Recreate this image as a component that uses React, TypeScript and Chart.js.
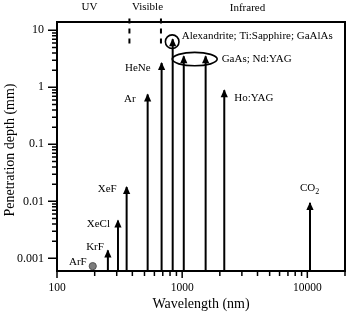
import React, { useEffect, useRef } from 'react';
import { Chart, registerables } from 'chart.js';

Chart.register(...registerables);

// ---- data ----
const laserNames = ['KrF', 'XeCl', 'XeF', 'Ar', 'HeNe', 'Alexandrite', 'GaAs', 'Nd:YAG', 'Ho:YAG', 'CO2'];
const laserWavelengths = [255, 307, 360, 530, 685, 840, 1030, 1540, 2170, 10500];
const laserDepths = [0.00138, 0.0046, 0.0178, 0.75, 2.67, 7.0, 3.5, 3.5, 0.89, 0.0094];
const arfWavelength = [193];
const arfDepth = [0.00073];
const xTickLabels = [100, 1000, 10000];
const yTickLabels = [0.001, 0.01, 0.1, 1, 10];
const regionNames = ['UV', 'Visible', 'Infrared'];
const regionBoundaries = [379, 677];
const xRange = [100, 20000];
const yRange = [0.0006, 14];

const FONT = '"Liberation Serif", "Times New Roman", serif';

const isLogInt = (v: number) => {
  const l = Math.log10(v);
  return Math.abs(l - Math.round(l)) < 1e-6;
};
const significand = (v: number) => v / Math.pow(10, Math.floor(Math.log10(v) + 1e-9));

const decorPlugin = {
  id: 'decor',
  afterDraw(chart: any) {
    const ctx = chart.ctx as CanvasRenderingContext2D;
    const area = chart.chartArea;
    const xs = chart.scales.x;
    const ys = chart.scales.y;
    ctx.save();

    // box
    ctx.strokeStyle = '#000';
    ctx.lineWidth = 2;
    ctx.strokeRect(area.left, area.top, area.right - area.left, area.bottom - area.top);

    // y ticks
    ctx.lineWidth = 1.5;
    ctx.beginPath();
    ys.ticks.forEach((t: any) => {
      const v = t.value;
      if (v < 0.000999 || v > 10.0001) return;
      const s = significand(v);
      if (Math.abs(s - Math.round(s)) > 1e-6) return;
      const py = ys.getPixelForValue(v);
      const len = isLogInt(v) ? 9 : 5;
      ctx.moveTo(area.left - len, py);
      ctx.lineTo(area.left, py);
    });
    // x ticks
    xs.ticks.forEach((t: any) => {
      const v = t.value;
      const s = significand(v);
      if (Math.abs(s - Math.round(s)) > 1e-6) return;
      const px = xs.getPixelForValue(v);
      const len = isLogInt(v) ? 7 : 5;
      ctx.moveTo(px, area.bottom);
      ctx.lineTo(px, area.bottom + len);
    });
    ctx.stroke();

    // dashed region boundaries (drawn bottom-up so the lowest dash is complete)
    ctx.lineWidth = 2;
    ctx.setLineDash([5, 5]);
    regionBoundaries.forEach((w) => {
      const px = xs.getPixelForValue(w);
      ctx.beginPath();
      ctx.moveTo(px, ys.getPixelForValue(5.9));
      ctx.lineTo(px, area.top - 8);
      ctx.stroke();
    });
    ctx.setLineDash([]);

    // arrowheads
    ctx.fillStyle = '#000';
    const tips: Record<string, { x: number; y: number }> = {};
    laserNames.forEach((name, i) => {
      const x = xs.getPixelForValue(laserWavelengths[i]);
      const y = ys.getPixelForValue(laserDepths[i]);
      tips[name] = { x, y };
      ctx.beginPath();
      ctx.moveTo(x, y - 1);
      ctx.lineTo(x - 3.6, y + 7);
      ctx.lineTo(x + 3.6, y + 7);
      ctx.closePath();
      ctx.fill();
    });

    // circle and ellipse
    ctx.lineWidth = 1.6;
    const a = tips['Alexandrite'];
    ctx.beginPath();
    ctx.arc(a.x - 0.5, a.y + 2.5, 6.8, 0, Math.PI * 2);
    ctx.stroke();
    const g = tips['GaAs'];
    const n = tips['Nd:YAG'];
    ctx.beginPath();
    ctx.ellipse((g.x + n.x) / 2, g.y + 2.8, 22.5, 6.7, 0, 0, Math.PI * 2);
    ctx.stroke();

    // labels
    ctx.fillStyle = '#000';
    ctx.font = `11px ${FONT}`;
    ctx.textBaseline = 'middle';
    const label = (text: string, x: number, y: number, align: CanvasTextAlign) => {
      ctx.textAlign = align;
      ctx.fillText(text, x, y);
    };
    label('KrF', tips['KrF'].x - 4, tips['KrF'].y - 3, 'right');
    label('XeCl', tips['XeCl'].x - 8, tips['XeCl'].y + 4, 'right');
    label('XeF', tips['XeF'].x - 10, tips['XeF'].y + 2, 'right');
    label('Ar', tips['Ar'].x - 12, tips['Ar'].y + 5, 'right');
    label('HeNe', tips['HeNe'].x - 11, tips['HeNe'].y + 5, 'right');
    label('Alexandrite; Ti:Sapphire; GaAlAs', a.x + 9, a.y - 3, 'left');
    label('GaAs; Nd:YAG', n.x + 16, n.y + 3, 'left');
    label('Ho:YAG', tips['Ho:YAG'].x + 10, tips['Ho:YAG'].y + 8, 'left');
    const c = tips['CO2'];
    ctx.textAlign = 'left';
    ctx.fillText('CO', c.x - 10, c.y - 15);
    const coW = ctx.measureText('CO').width;
    ctx.font = `8px ${FONT}`;
    ctx.fillText('2', c.x - 10 + coW, c.y - 11);
    ctx.font = `11px ${FONT}`;
    const arfX = xs.getPixelForValue(arfWavelength[0]);
    const arfY = ys.getPixelForValue(arfDepth[0]);
    label('ArF', arfX - 6, arfY - 4, 'right');

    // region labels
    label(regionNames[0], 89.5, 7, 'center');
    label(regionNames[1], 147.5, 7, 'center');
    label(regionNames[2], 247.5, 8.5, 'center');

    // axis titles
    ctx.font = `14px ${FONT}`;
    label('Wavelength (nm)', (area.left + area.right) / 2, 304, 'center');
    ctx.save();
    ctx.translate(10.5, 150);
    ctx.rotate(-Math.PI / 2);
    label('Penetration depth (mm)', 0, 0, 'center');
    ctx.restore();

    ctx.restore();
  },
};

export default function App() {
  const ref = useRef<HTMLCanvasElement | null>(null);
  useEffect(() => {
    if (!ref.current) return;
    const datasets: any[] = laserNames.map((name, i) => ({
      type: 'line',
      label: name,
      data: [
        { x: laserWavelengths[i], y: yRange[0] },
        { x: laserWavelengths[i], y: laserDepths[i] },
      ],
      borderColor: '#000',
      borderWidth: 2,
      pointRadius: 0,
      fill: false,
    }));
    datasets.push({
      type: 'scatter',
      label: 'ArF',
      data: arfWavelength.map((w, i) => ({ x: w, y: arfDepth[i] })),
      pointRadius: 3.6,
      backgroundColor: '#7d7d7d',
      borderColor: '#555',
      borderWidth: 1,
    });
    const chart = new Chart(ref.current, {
      type: 'scatter',
      data: { datasets },
      options: {
        animation: false,
        responsive: false,
        layout: { padding: { left: 0, top: 22, right: 3.5, bottom: 0 } },
        plugins: { legend: { display: false }, tooltip: { enabled: false } },
        scales: {
          x: {
            type: 'logarithmic',
            min: xRange[0],
            max: xRange[1],
            border: { display: false },
            grid: { display: false, drawTicks: false },
            afterFit: (s: any) => { s.height = 44; },
            ticks: {
              autoSkip: false,
              maxRotation: 0,
              padding: 10,
              color: '#000',
              font: { family: FONT, size: 11.5 },
              callback: (v: any) => (xTickLabels.some((t) => Math.abs(t - v) < 1e-6) ? String(v) : ''),
            },
          },
          y: {
            type: 'logarithmic',
            min: yRange[0],
            max: yRange[1],
            border: { display: false },
            grid: { display: false, drawTicks: false },
            afterFit: (s: any) => { s.width = 57; },
            ticks: {
              autoSkip: false,
              padding: 13,
              color: '#000',
              font: { family: FONT, size: 12 },
              callback: (v: any) => {
                const hit = yTickLabels.find((t) => Math.abs(t - v) / t < 1e-6);
                return hit !== undefined ? String(hit) : '';
              },
            },
          },
        },
      },
      plugins: [decorPlugin],
    } as any);
    return () => chart.destroy();
  }, []);
  return (
    <div style={{ position: 'absolute', left: 0, top: 0, width: 355, height: 315, background: '#fff' }}>
      <canvas ref={ref} width={355} height={315} style={{ width: 355, height: 315 }} />
    </div>
  );
}
